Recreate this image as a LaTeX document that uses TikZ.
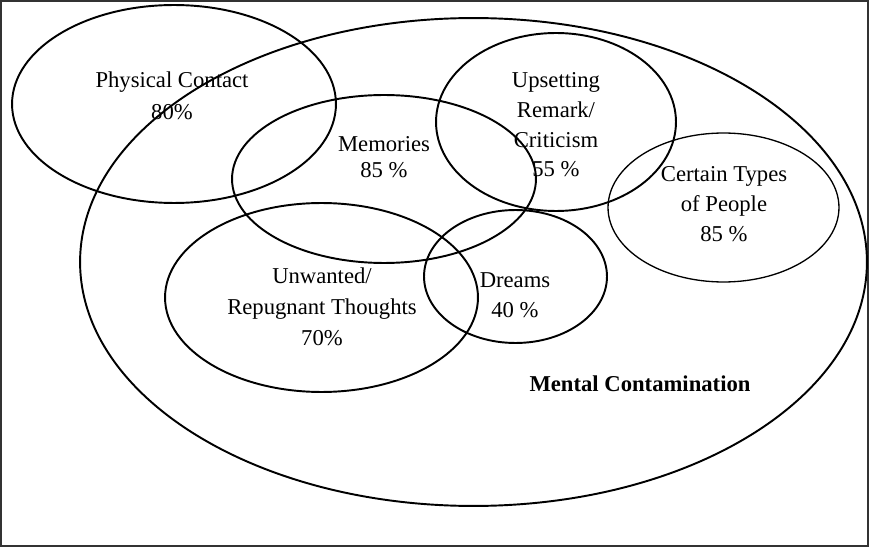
\documentclass[tikz,border=0pt]{standalone}
\usepackage{fontspec}
\setmainfont{Liberation Serif}
\usetikzlibrary{shapes.geometric}

\begin{document}
\begin{tikzpicture}[
  x=0.02cm, y=-0.02cm,
  set/.style={draw, ellipse, line width=1.1pt, inner sep=0pt},
  thinset/.style={set, line width=0.75pt},
  lbl/.style={align=center, inner sep=0pt, font=\fontsize{12.9}{#1}\selectfont},
  lbl/.default=17pt
]
\useasboundingbox (0,0) rectangle (869,547);
\draw[black!80, line width=1.1pt] (1,1) rectangle (868,546);
% sets
\node[set, minimum width=15.74cm, minimum height=9.76cm] (mental) at (473.5,262) {};
\node[set, minimum width=6.48cm, minimum height=3.96cm] (physical) at (174,104) {};
\node[set, minimum width=6.08cm, minimum height=3.36cm] (memories) at (384,179) {};
\node[set, minimum width=4.80cm, minimum height=3.56cm] (upsetting) at (556,122) {};
\node[thinset, minimum width=4.62cm, minimum height=2.98cm] (people) at (723.5,207.5) {};
\node[set, minimum width=3.66cm, minimum height=2.66cm] (dreams) at (515.5,276.5) {};
\node[set, minimum width=6.26cm, minimum height=3.78cm] (thoughts) at (321.5,297.5) {};
% labels
\node[lbl=18.2pt] (physicaltxt) at (172,95.7) {Physical Contact\\80\%};
\node[lbl=14.8pt] (memoriestxt) at (384,157.3) {Memories\\85 \%};
\node[lbl] (upsettingtxt) at (556,124.8) {Upsetting\\Remark/\\Criticism\\55 \%};
\node[lbl] (peopletxt) at (724,204.3) {Certain Types\\of People\\85 \%};
\node[lbl=17.75pt] (thoughtstxt) at (322,306.9) {Unwanted/\\Repugnant Thoughts\\70\%};
\node[lbl] (dreamstxt) at (515,295) {Dreams\\40 \%};
\node[lbl, anchor=base, font=\fontsize{12.9}{17}\selectfont\bfseries] (mentaltxt) at (640,391) {Mental Contamination};
\end{tikzpicture}
\end{document}
